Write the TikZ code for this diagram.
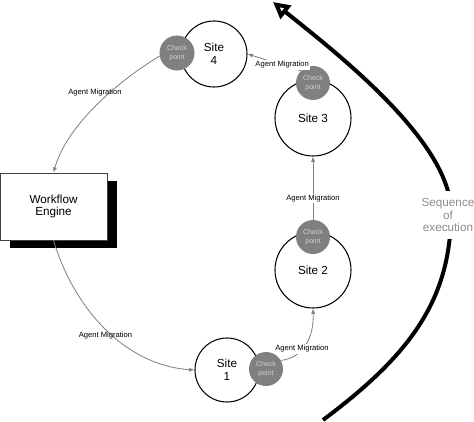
\documentclass[tikz,border=0pt]{standalone}
\usepackage{fontspec}
\setmainfont{Liberation Sans}
\usetikzlibrary{arrows.meta,shadows}
\begin{document}
\begin{tikzpicture}[x=0.03cm,y=-0.03cm,
    site/.style={circle, draw, line width=0.9pt, fill=white, inner sep=0pt, align=center, font=\fontsize{10}{11}\selectfont},
    chkpt/.style={circle, fill=black!50, minimum size=1.02cm, inner sep=0pt, align=center, text=black!18, font=\fontsize{6}{7.5}\selectfont},
    migr/.style={draw=black!50, line width=0.7pt, -{Latex[length=4.5pt,width=3.5pt]}},
    lbl/.style={inner sep=1pt, font=\fontsize{6.5}{7}\selectfont},
    cutlbl/.style={lbl, fill=white}]
  \useasboundingbox (0,0) rectangle (474,422);
  \node[site, minimum size=1.98cm] (site4) at (214,54) {Site\\4};
  \node[site, minimum size=2.28cm] (site3) at (313,118) {Site 3};
  \node[site, minimum size=2.28cm] (site2) at (313,270) {Site 2};
  \node[site, minimum size=1.92cm] (site1) at (227,370) {Site\\1};
  \node[chkpt, minimum size=1.05cm] (cp4) at (177,53) {Check\\point};
  \node[chkpt] (cp3) at (313,83) {Check\\point};
  \node[chkpt] (cp2) at (313,237) {Check\\point};
  \node[chkpt] (cp1) at (266,369) {Check\\point};
  \node[draw=black!75, line width=0.6pt, fill=white, minimum width=3.21cm, minimum height=2.01cm, align=center, font=\fontsize{10}{11}\selectfont,
    drop shadow={shadow xshift=0.3cm, shadow yshift=-0.24cm, fill=black, opacity=1}] (engine) at (53.5,206.5) {Workflow\\Engine};

  \draw[migr] (cp4.190) .. controls (121.5,79) and (67.5,123) .. (engine.north);
  \node[lbl] (m1) at (95,93) {Agent Migration};
  \draw[migr] (engine.south) .. controls (74.5,310) and (126,365.5) .. (site1.west);
  \node[lbl] (m2) at (105.5,336) {Agent Migration};
  \draw[migr] (cp1.30) .. controls (303,358) and (314,338) .. (site2.south);
  \node[cutlbl] (m3) at (302,349) {Agent Migration};
  \draw[migr] (cp2.north) -- node[cutlbl, pos=0.34] (m4) {Agent Migration} (site3.south);
  \draw[migr] (cp3.135) -- node[cutlbl, pos=0.35] (m5) {Agent Migration} (site4.east);

  \coordinate (seqstart) at (323,420);
  \coordinate (seqend) at (273,2);
  \draw[line width=3.4pt, -{Triangle[open, length=0.5cm, width=0.5cm]}] (seqstart) .. controls (410,355) and (451,300) .. (451,212)
    .. controls (451,142) and (338,54) .. (seqend);
  \node[fill=white, inner xsep=1pt, inner ysep=6pt, align=center, text=black!45, font=\fontsize{10}{11}\selectfont] (seq) at (448,215) {Sequence\\of\\execution};
\end{tikzpicture}
\end{document}
